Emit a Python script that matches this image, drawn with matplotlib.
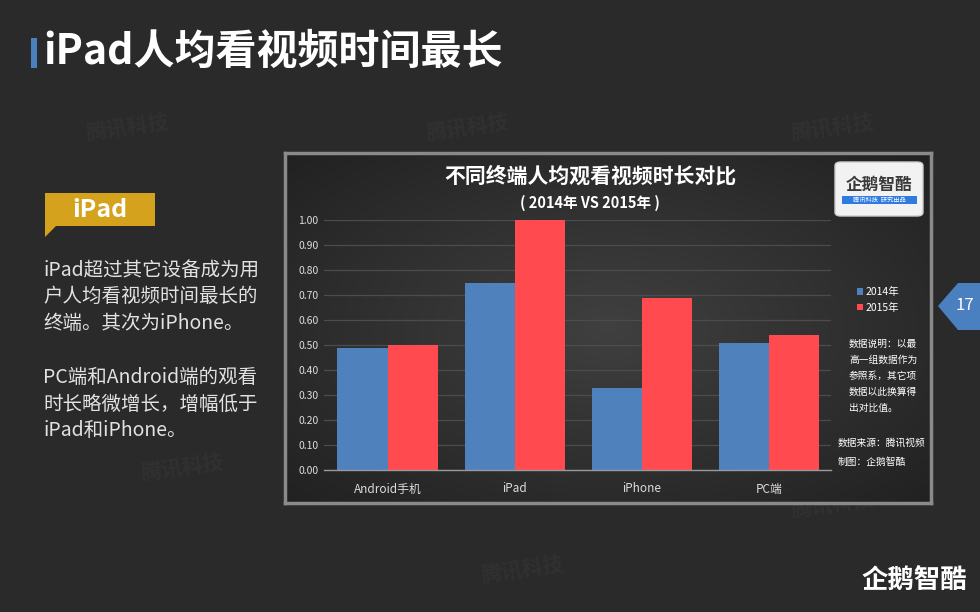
import matplotlib.pyplot as plt
import numpy as np
from matplotlib.patches import Rectangle, Polygon, FancyBboxPatch

plt.rcParams['font.family'] = ['Noto Sans CJK SC', 'DejaVu Sans']

# data
categories = ["Android手机", "iPad", "iPhone", "PC端"]
series_names = ["2014年", "2015年"]
values_2014 = [0.49, 0.75, 0.33, 0.51]
values_2015 = [0.50, 1.00, 0.69, 0.54]
yticks = [0.0, 0.1, 0.2, 0.3, 0.4, 0.5, 0.6, 0.7, 0.8, 0.9, 1.0]

W, H = 980, 612
bg = "#2a2a2a"
blue = "#4f81bd"
red = "#ff4b4f"


def fx(px):
    return px / W


def fy(py):
    return 1 - py / H


fig = plt.figure(figsize=(9.8, 6.12), dpi=100)
fig.patch.set_facecolor(bg)

# page title
fig.patches.append(Rectangle((fx(31), fy(68)), fx(6), 30 / H, transform=fig.transFigure,
                             facecolor="#4a7fc0", edgecolor="none"))
fig.text(fx(43), fy(52), "iPad人均看视频时间最长", color="white", fontsize=29.5,
         fontweight="bold", va="center", ha="left")

# faint watermarks
for (wx, wy) in [(85, 128), (425, 128), (790, 128), (140, 468), (480, 570), (790, 505)]:
    fig.text(fx(wx), fy(wy), "腾讯科技", color="#313131", fontsize=15, fontweight="bold",
             style="italic", va="center", ha="left", rotation=8, zorder=-1)

# gold label
fig.patches.append(Rectangle((fx(45), fy(226)), fx(110), 33 / H, transform=fig.transFigure,
                             facecolor="#d4a21c", edgecolor="none"))
fig.patches.append(Polygon([(fx(45), fy(226)), (fx(45), fy(237)), (fx(56), fy(226))],
                           closed=True, transform=fig.transFigure,
                           facecolor="#d4a21c", edgecolor="none"))
fig.text(fx(100), fy(210), "iPad", color="white", fontsize=18, fontweight="bold",
         ha="center", va="center")

para_lines = ["iPad超过其它设备成为用", "户人均看视频时间最长的", "终端。其次为iPhone。",
              "", "PC端和Android端的观看", "时长略微增长，增幅低于", "iPad和iPhone。"]
for i, line in enumerate(para_lines):
    yy = 270 + i * 26.8
    fig.text(fx(43), fy(yy), line, color="#e2e2e2", fontsize=14, ha="left", va="center")

# page number
fig.patches.append(Polygon([(fx(938), fy(306)), (fx(958), fy(283)), (fx(980), fy(283)),
                            (fx(980), fy(330)), (fx(958), fy(330))], closed=True,
                           transform=fig.transFigure, facecolor="#4a7fc0", edgecolor="none"))
fig.text(fx(965), fy(306), "17", color="white", fontsize=12, ha="center", va="center")

# bottom logo
fig.text(fx(914), fy(580), "企鹅智酷", color="white", fontsize=19, fontweight="bold",
         ha="center", va="center")

# chart panel with radial gradient
panel = fig.add_axes([fx(285), fy(503), fx(646), 350 / H])
gx, gy = np.meshgrid(np.linspace(-1, 1, 300), np.linspace(-1, 1, 200))
r = np.sqrt(gx ** 2 + gy ** 2) / np.sqrt(2)
shade = 0.25 - 0.12 * r
img = np.dstack([shade, shade, shade])
panel.imshow(img, extent=[0, 1, 0, 1], aspect="auto")
panel.set_xlim(0, 1)
panel.set_ylim(0, 1)
panel.set_xticks([])
panel.set_yticks([])
for s in panel.spines.values():
    s.set_color("#8a8a8a")
    s.set_linewidth(2.5)

# chart axes
ax = fig.add_axes([fx(324), fy(470), fx(507), 250 / H])
ax.set_facecolor("none")
x = np.arange(len(categories))
bw = 0.394
b1 = ax.bar(x - bw / 2, values_2014, bw, color=blue, label=series_names[0], zorder=3)
b2 = ax.bar(x + bw / 2, values_2015, bw, color=red, label=series_names[1], zorder=3)
ax.set_xlim(-0.5, 3.49)
ax.set_ylim(0, 1.0)
ax.set_yticks(yticks)
ax.set_yticklabels([f"{v:.2f}" for v in yticks])
ax.set_xticks(x)
ax.set_xticklabels(categories)
ax.tick_params(axis="y", length=0, colors="#dddddd", labelsize=7.5, pad=4)
ax.tick_params(axis="x", length=0, colors="#dddddd", labelsize=8.5, pad=9)
ax.yaxis.grid(True, color="#4c4c4c", linewidth=0.9, zorder=0)
ax.set_axisbelow(True)
for k in ["top", "right", "left"]:
    ax.spines[k].set_visible(False)
ax.spines["bottom"].set_color("#9a9a9a")
ax.spines["bottom"].set_linewidth(1.0)
ax.spines["bottom"].set_zorder(4)

fig.text(fx(590), fy(176), "不同终端人均观看视频时长对比", color="white", fontsize=15,
         fontweight="bold", ha="center", va="center")
fig.text(fx(590), fy(203), "( 2014年 VS 2015年 )", color="white", fontsize=10.5,
         fontweight="bold", ha="center", va="center")

fig.legend(handles=[b1, b2], labels=series_names, loc="upper left",
           bbox_to_anchor=(fx(857), fy(287)), frameon=False, fontsize=7.5,
           labelcolor="white", handlelength=0.55, handleheight=0.55,
           handletextpad=0.3, labelspacing=0.55, borderaxespad=0, borderpad=0)

note_lines = ["数据说明：以最", "高一组数据作为", "参照系，其它项", "数据以此换算得", "出对比值。"]
for i, line in enumerate(note_lines):
    fig.text(fx(849), fy(344 + i * 16), line, color="white", fontsize=7, ha="left", va="center")
fig.text(fx(838), fy(443), "数据来源：腾讯视频", color="white", fontsize=7, style="italic",
         ha="left", va="center")
fig.text(fx(838), fy(462), "制图：企鹅智酷", color="white", fontsize=7, style="italic",
         ha="left", va="center")

# logo box in the chart
fig.patches.append(FancyBboxPatch((fx(835), fy(216)), fx(88), 54 / H,
                                  boxstyle="round,pad=0,rounding_size=0.006",
                                  transform=fig.transFigure, facecolor="#f2f2f2",
                                  edgecolor="#cccccc", linewidth=1, zorder=5))
fig.text(fx(879), fy(185), "企鹅智酷", color="#3a3a3a", fontsize=12, fontweight="bold",
         ha="center", va="center", zorder=6)
fig.patches.append(Rectangle((fx(842), fy(204)), fx(75), 8 / H, transform=fig.transFigure,
                             facecolor="#2f7be0", edgecolor="none", zorder=6))
fig.text(fx(879), fy(200), "腾讯科技  研究出品", color="white", fontsize=4.5, style="italic",
         ha="center", va="center", zorder=7)

fig.savefig("out.png", dpi=100, facecolor=bg)
